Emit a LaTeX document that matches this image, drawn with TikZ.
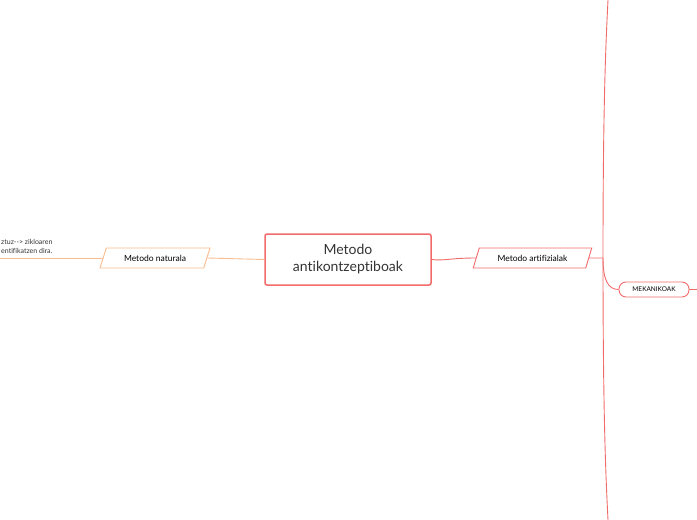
\documentclass[tikz,border=0pt]{standalone}
\usepackage{fontspec}
\setmainfont[Ligatures={NoCommon,NoRare,NoDiscretionary}]{Lato}
\usetikzlibrary{shapes.geometric}
\definecolor{redc}{HTML}{F26B6B}
\definecolor{orc}{HTML}{F9BC8F}
\tikzset{
  para/.style={trapezium, trapezium left angle=58, trapezium right angle=122, trapezium stretches=true, minimum height=20pt, font=\fontsize{8.5}{10}\selectfont, inner sep=0pt, fill=white, line width=0.9pt},
  conn/.style={line width=0.9pt},
}
\begin{document}
\begin{tikzpicture}[x=1pt,y=-1pt]
\useasboundingbox (0,0) rectangle (697,520);
\clip (0,0) rectangle (697,520);
\draw[orc, conn] (0,258) -- (103,258);
\node[draw=redc, line width=1.5pt, rounded corners=2pt, minimum width=166pt, minimum height=51pt, align=center, font=\fontsize{14}{17}\selectfont, text=black!80] (c) at (348,259.5) {Metodo\\antikontzeptiboak};
\node[para, draw=orc, minimum width=110pt] (nat) at (155,258) {Metodo naturala};
\node[para, draw=redc, minimum width=119pt] (art) at (532.5,258) {Metodo artifizialak};
\node[draw=redc, line width=0.9pt, rounded corners=7pt, minimum width=70pt, minimum height=15pt, inner sep=0pt, font=\fontsize{6.5}{8}\selectfont] (mek) at (654,289.5) {MEKANIKOAK};
\node[anchor=east, align=left, font=\fontsize{7}{9}\selectfont, text=black!80] (txt) at (56,246.5) {ztuz-{}-> zikloaren\\entifikatzen dira.};
\coordinate (b) at (603,258);
\coordinate (top) at (608,0);
\coordinate (bot) at (608,520);
\coordinate (R) at (697,289.5);
\draw[orc, conn] (c.west) -- (nat.east);
\draw[redc, conn] (c.east) .. controls (445,261) and (450,258) .. (art.west);
\draw[redc, conn] (art.east) -- (b);
\draw[redc, conn] (b) .. controls (603,100) and (606,40) .. (top);
\draw[redc, conn] (b) .. controls (603,420) and (606,480) .. (bot);
\draw[redc, conn] (b) .. controls (603,280) and (608,289.5) .. (mek.west);
\draw[redc, conn] (mek.east) -- (R);
\end{tikzpicture}
\end{document}
